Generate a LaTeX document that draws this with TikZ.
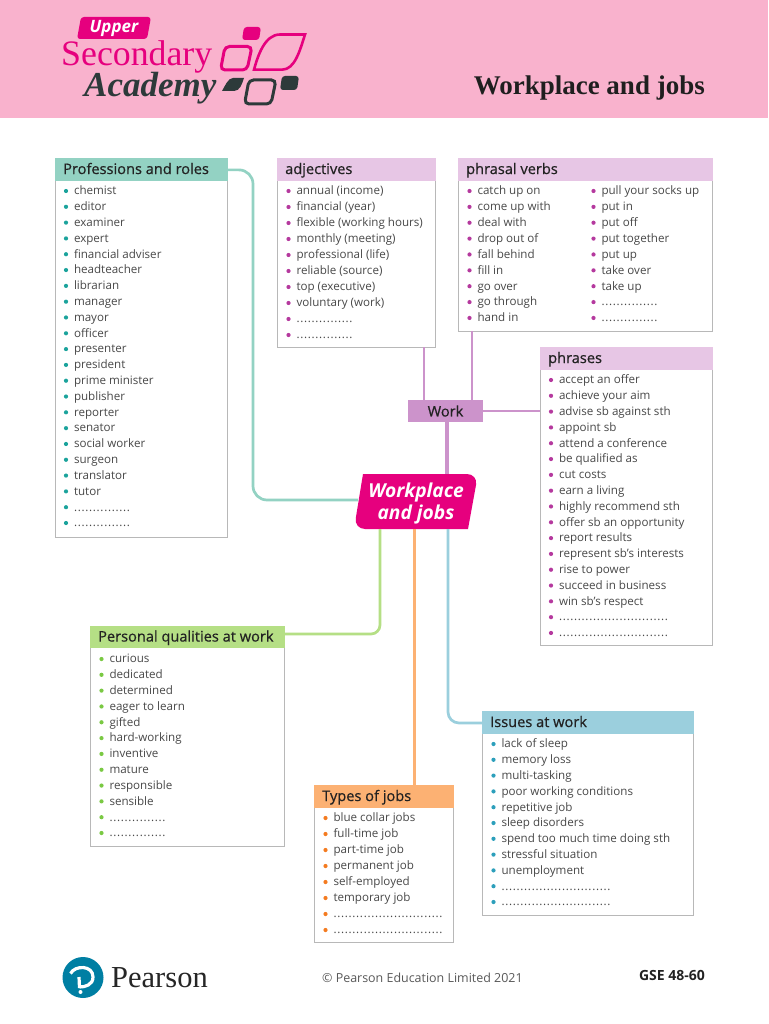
\documentclass[tikz,border=0pt]{standalone}
\usepackage{fontspec}
\setmainfont{Open Sans}
\newfontfamily\seriftwo{Liberation Serif}
\newfontfamily\headfont[FakeBold=0.6]{Open Sans}
\newfontfamily\dotfont[LetterSpace=6]{Open Sans}
\usetikzlibrary{calc}
\definecolor{hdrpink}{HTML}{F9B2CD}
\definecolor{magentab}{HTML}{E6007E}
\definecolor{darklogo}{HTML}{2D3A3A}
\definecolor{tealh}{HTML}{93D2C3}
\definecolor{tealb}{HTML}{1BA39C}
\definecolor{lilach}{HTML}{E7C6E5}
\definecolor{lilacb}{HTML}{B5399E}
\definecolor{lilacc}{HTML}{CC93CB}
\definecolor{greenh}{HTML}{B5DF85}
\definecolor{greenb}{HTML}{7AC943}
\definecolor{orangeh}{HTML}{FCB173}
\definecolor{orangeb}{HTML}{F47B20}
\definecolor{blueh}{HTML}{9BCFDD}
\definecolor{blueb}{HTML}{2C9FBB}
\definecolor{txt}{HTML}{484848}
\definecolor{hd}{HTML}{222222}
\definecolor{pblue}{HTML}{007FA3}
\tikzset{
 bodybox/.style={draw=black!28,line width=1.3pt,fill=white,inner sep=0pt,outer sep=0pt,anchor=north west},
 headbox/.style={fill=#1,inner sep=0pt,outer sep=0pt,anchor=north west},
 headtext/.style={text=hd,font=\fontsize{14.6}{16}\headfont,anchor=west,inner sep=0pt,text height=10.5pt,text depth=3pt},
 itemtext/.style={text=txt,font=\fontsize{11.6}{14}\selectfont,anchor=west,inner sep=0pt,text height=8.8pt,text depth=2.6pt},
 bulletdot/.style={circle,fill=#1,inner sep=0pt,minimum size=4.2pt},
 link/.style={draw=#1,line width=2.7pt,line cap=butt},
}
\newcommand{\shortdots}{{\dotfont ...............}}
\newcommand{\longdots}{{\dotfont .............................}}
\newcommand{\itemcolumn}[6]{% id, xbullet, ystart, ystep, colour, items
 \foreach \t [count=\i from 0] in {#6}{
  \node[bulletdot=#5] (#1b\i) at (#2,#3+\i*#4) {};
  \node[itemtext] (#1t\i) at (#2+7.8,#3+0.7+\i*#4) {\t};
 }}
\newcommand{\panel}[9]{% id,x1,x2,ytop,yhead,ybot,headcol,textx,title
 \node[bodybox,minimum width=#3pt-#2pt,minimum height=#6pt-#4pt] (#1) at (#2+0.4,#4+0.4) {};
 \node[headbox=#7,minimum width=#3pt-#2pt+1.3pt,minimum height=#5pt-#4pt] (#1h) at (#2-0.25,#4+0.4) {};
 \node[headtext] (#1l) at (#8,{(#4+#5)/2+0.8}) {#9};
}
\begin{document}
\begin{tikzpicture}[x=1pt,y=-1pt]
\useasboundingbox (0,0) rectangle (768,1024);
\fill[white] (0,0) rectangle (768,1024);
\fill[hdrpink] (0,0) rectangle (768,118);
% logo
\fill[magentab,rounded corners=3pt] (81,17) -- (151,17) -- (147,39) -- (77,39) -- cycle;
\node[inner sep=0pt,text=white] (lgup) at (114,28) {\fontsize{17}{17}\selectfont\bfseries\itshape Upper};
\node[inner sep=0pt,text=magentab,anchor=base west] (lgsec) at (61,65.5) {\fontsize{35.8}{36}\seriftwo Secondary};
\node[inner sep=0pt,text=darklogo,anchor=base west] (lgaca) at (84,96.5) {\fontsize{35}{36}\seriftwo\bfseries\itshape Academy};
\fill[magentab,rounded corners=3pt] (244,27) -- (261,27) -- (259,40) -- (242,40) -- cycle;
\draw[magentab,line width=3pt,rounded corners=4.5pt] (225,46.5) -- (252,46.5) -- (247,70) -- (220.5,70) -- cycle;
\draw[magentab,line width=2.6pt] (305,34.5) -- (280,34.5) .. controls (265,34.5) and (258,55) .. (254,69.7) -- (282,69.7) .. controls (295,69.7) and (300,50) .. cycle;
\fill[darklogo] (244,78) -- (233,78) .. controls (228,78) and (225,86) .. (222,91) -- (234,91) .. controls (240,91) and (242,84) .. cycle;
\draw[darklogo,line width=3pt,rounded corners=4.5pt] (249,80) -- (276,80) -- (271,104) -- (244.5,104) -- cycle;
\fill[darklogo,rounded corners=3pt] (282,76) -- (299,76) -- (297,90) -- (280,90) -- cycle;
\node[inner sep=0pt,anchor=east,text=black!88] (title) at (705,88.5) {\fontsize{27}{28}\seriftwo\bfseries Workplace and jobs};
% panels
\panel{prof}{55}{227}{158}{181}{537}{tealh}{63}{Professions and roles}
\panel{adj}{277}{435}{158}{181}{347}{lilach}{285}{adjectives}
\panel{phv}{458}{712}{158}{181}{331}{lilach}{466}{phrasal verbs}
\panel{phr}{540}{712}{347}{370}{645}{lilach}{548}{phrases}
\panel{pers}{90}{284}{626}{648}{846}{greenh}{98}{Personal qualities at work}
\panel{iss}{482}{693}{711}{734}{915}{blueh}{490}{Issues at work}
\panel{typ}{314}{453}{785}{808}{942}{orangeh}{322}{Types of jobs}
% work + centre
\node[fill=lilacc,minimum width=75pt,minimum height=22pt,inner sep=0pt,outer sep=0pt,text=hd,font=\fontsize{14.6}{16}\headfont] (work) at (445.5,411) {Work};
\fill[magentab] (363,474) [rounded corners=11pt] -- (478,474) [sharp corners] -- (468,529) [rounded corners=11pt] -- (354,529) [sharp corners] -- cycle;
\node[inner sep=0pt,outer sep=0pt,text=white,align=center,minimum width=124pt,minimum height=55pt,font=\fontsize{19.2}{22.5}\selectfont\bfseries\itshape] (central) at (416,503.5) {Workplace\\and jobs};
% connectors
\coordinate (centraltop) at (447,474);
\coordinate (centralbot) at (416,529);
\draw[link=tealh,rounded corners=14pt] (profh.east) -- (253,169.9) -- (253,500) -- ($(central.west |- 0,500)+(4,0)$);
\draw[link=lilacc] (adj.south -| 424,0) -- (work.north -| 424,0);
\draw[link=lilacc] (phv.south -| 472,0) -- (work.north -| 472,0);
\draw[link=lilacc] (work.east) -- (phr.west |- work.east);
\draw[link=lilacc,line width=3.4pt] (work.south -| 447,0) -- (centraltop);
\draw[link=greenh,rounded corners=9pt] (centralbot -| 380,0) -- (380,634) -- (pers.east |- 0,634);
\draw[link=orangeh,line width=3pt] (centralbot -| 414,0) -- (typh.north -| 414,0);
\draw[link=blueh,rounded corners=11pt] (centralbot -| 448,0) -- (448,723) -- (iss.west |- 0,723);
% items
\itemcolumn{prof}{66}{191}{15.81}{tealb}{chemist,editor,examiner,expert,financial adviser,headteacher,librarian,manager,mayor,officer,presenter,president,prime minister,publisher,reporter,senator,social worker,surgeon,translator,tutor,\shortdots,\shortdots}
\itemcolumn{adj}{288.5}{191}{16}{lilacb}{annual (income),financial (year),flexible (working hours),monthly (meeting),professional (life),reliable (source),top (executive),voluntary (work),\shortdots,\shortdots}
\itemcolumn{phva}{469.5}{191}{15.87}{lilacb}{catch up on,come up with,deal with,drop out of,fall behind,fill in,go over,go through,hand in}
\itemcolumn{phvb}{593.5}{191}{15.87}{lilacb}{pull your socks up,put in,put off,put together,put up,take over,take up,\shortdots,\shortdots}
\itemcolumn{phr}{551}{380}{15.81}{lilacb}{accept an offer,achieve your aim,advise sb against sth,appoint sb,attend a conference,be qualified as,cut costs,earn a living,highly recommend sth,offer sb an opportunity,report results,represent sb’s interests,rise to power,succeed in business,win sb’s respect,\longdots,\longdots}
\itemcolumn{pers}{101.5}{659}{15.82}{greenb}{curious,dedicated,determined,eager to learn,gifted,hard-working,inventive,mature,responsible,sensible,\shortdots,\shortdots}
\itemcolumn{iss}{493.5}{744}{15.8}{blueb}{lack of sleep,memory loss,multi-tasking,poor working conditions,repetitive job,sleep disorders,spend too much time doing sth,stressful situation,unemployment,\longdots,\longdots}
\itemcolumn{typ}{325.5}{818}{16}{orangeb}{blue collar jobs,full-time job,part-time job,permanent job,self-employed,temporary job,\longdots,\longdots}
% footer
\fill[pblue] (83,977.5) circle (20.5);
\draw[white,line width=3.2pt] (70.5,973.5) .. controls (75,965) and (93,965) .. (93,977) .. controls (93,985) and (85,987) .. (79.5,987);
\draw[white,line width=3.2pt] (79,977) -- (79.5,988);
\fill[white] (80.5,992) circle (2);
\node[inner sep=0pt,anchor=base west,text=black!85] (pearson) at (111,987) {\fontsize{30.5}{31}\seriftwo Pearson};
\node[inner sep=0pt,anchor=west,text=black!65] (copy) at (322,978) {\fontsize{12.45}{14}\selectfont © Pearson Education Limited 2021};
\node[inner sep=0pt,anchor=east,text=hd] (gse) at (705,975) {\fontsize{14}{15}\selectfont\bfseries GSE 48-60};
\end{tikzpicture}
\end{document}
